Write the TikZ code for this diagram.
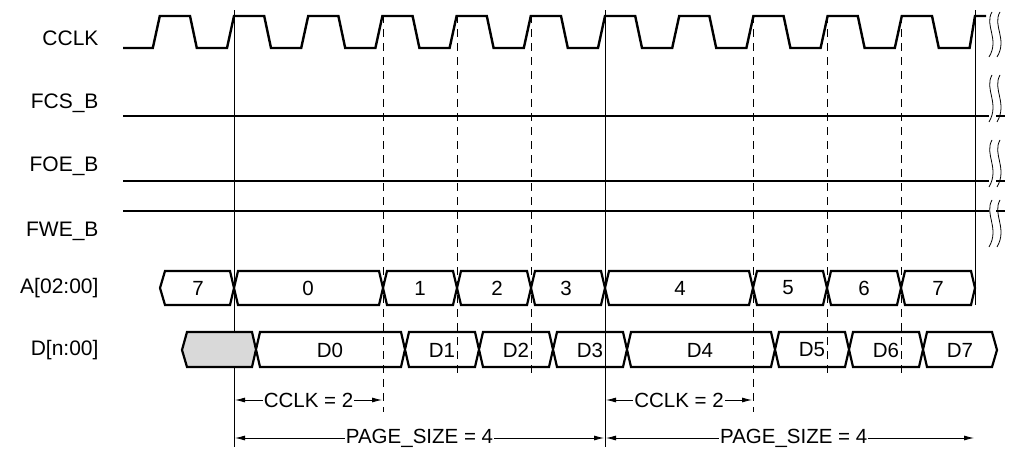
\documentclass[tikz,border=0pt]{standalone}
\usepackage{fontspec}
\setmainfont{Liberation Sans}
\usetikzlibrary{arrows.meta}
\begin{document}
\begin{tikzpicture}[x=1pt,y=-1pt,
  sig/.style={line width=2.4pt,line join=miter},
  bus/.style={line width=2.2pt,line join=miter},
  grid/.style={line width=0.8pt},
  gridd/.style={line width=0.8pt,dash pattern=on 8pt off 6pt},
  lbl/.style={anchor=east,font=\fontsize{21}{23}\selectfont},
  val/.style={font=\fontsize{20.5}{22}\selectfont},
  dim/.style={line width=0.8pt,{Latex[length=10pt,width=5pt]}-{Latex[length=10pt,width=5pt]}},
  brk/.style={line width=0.8pt}]
\useasboundingbox (0,0) rectangle (1010,455);
% labels
\node[lbl] (l1) at (102,38) {CCLK};
\node[lbl] (l2) at (102,103) {FCS\_B};
\node[lbl] (l3) at (102,166) {FOE\_B};
\node[lbl] (l4) at (102,231) {FWE\_B};
\node[lbl] (l5) at (102,288) {A[02:00]};
\node[lbl] (l6) at (102,350) {D[n:00]};
% vertical lines
\foreach \x in {234,605} \draw[grid] (\x,10) -- (\x,447);
\draw[grid] (975,10) -- (975,305);
\draw[gridd] (383,15) -- (383,412);
\draw[gridd] (753,15) -- (753,412);
\foreach \x in {457,531,827,901} \draw[gridd] (\x,15) -- (\x,376);
% clock
\draw[sig] (123,48) \foreach \k in {0,...,10} {
  -- ({152.8+74.2*\k},48) -- ({159.8+74.2*\k},16) -- ({190+74.2*\k},16) -- ({196.8+74.2*\k},48) -- ({227+74.2*\k},48)}
  -- (227.6+74.2*10,48) -- (975,16) -- (986,16);
% static lines
\draw[sig] (123,116) -- (989,116) (996,116) -- (1005,116);
\draw[sig] (123,181) -- (989,181) (996,181) -- (1005,181);
\draw[sig] (123,211) -- (989,211) (996,211) -- (1005,211);
% breaks
\foreach \ya/\yb in {12/57,75/122,140/187,200/247} {
  \foreach \dx in {0,8} {
    \draw[brk] ({992+\dx},\ya) .. controls ({984+\dx},{\ya+0.3*(\yb-\ya)}) and ({1000+\dx},{\ya+0.6*(\yb-\ya)}) .. ({989+\dx},\yb);
  }
}
% A bus
\def\at{271}\def\ab{305}\def\am{288}
\draw[bus] (160,\am) -- (165,\at) -- (230,\at) -- (238,\ab) -- (379,\ab) -- (387,\at) -- (453,\at) -- (461,\ab) -- (527,\ab) -- (535,\at) -- (601,\at) -- (609,\ab) -- (749,\ab) -- (757,\at) -- (823,\at) -- (831,\ab) -- (897,\ab) -- (905,\at) -- (971,\at) -- (975,\am) -- (971,\ab) -- (905,\ab) -- (897,\at) -- (831,\at) -- (823,\ab) -- (757,\ab) -- (749,\at) -- (609,\at) -- (601,\ab) -- (535,\ab) -- (527,\at) -- (461,\at) -- (453,\ab) -- (387,\ab) -- (379,\at) -- (238,\at) -- (230,\ab) -- (165,\ab) -- cycle;
\foreach \x/\t in {198/7,308/0,420/1,497/2,566/3,680/4,788/5,864/6,938/7}
  \node[val] at (\x,\am) {\t};
% D bus
\def\dt{332}\def\db{367}\def\dm{350}
\fill[gray!30] (182,\dm) -- (187,\dt) -- (252,\dt) -- (256,\dm) -- (252,\db) -- (187,\db) -- cycle;
\draw[bus] (182,\dm) -- (187,\dt) -- (252,\dt) -- (260,\db) -- (401,\db) -- (409,\dt) -- (475,\dt) -- (483,\db) -- (549,\db) -- (557,\dt) -- (623,\dt) -- (631,\db) -- (771,\db) -- (779,\dt) -- (845,\dt) -- (853,\db) -- (919,\db) -- (927,\dt) -- (992,\dt) -- (997,\dm) -- (992,\db) -- (927,\db) -- (919,\dt) -- (853,\dt) -- (845,\db) -- (779,\db) -- (771,\dt) -- (631,\dt) -- (623,\db) -- (557,\db) -- (549,\dt) -- (483,\dt) -- (475,\db) -- (409,\db) -- (401,\dt) -- (260,\dt) -- (252,\db) -- (187,\db) -- cycle;
\foreach \x/\t in {330/D0,442/D1,516/D2,590/D3,700/D4,812/D5,886/D6,960/D7}
  \node[val] at (\x,\dm) {\t};
% dimensions
\draw[dim] (235,400) -- node[val,fill=white,inner sep=1pt] {CCLK = 2} (382,400);
\draw[dim] (606,400) -- node[val,fill=white,inner sep=1pt] {CCLK = 2} (752,400);
\draw[dim] (235,438) -- node[val,fill=white,inner sep=1pt] {PAGE\_SIZE = 4} (604,438);
\draw[dim] (606,438) -- node[val,fill=white,inner sep=1pt,pos=0.51] {PAGE\_SIZE = 4} (974,438);
\end{tikzpicture}
\end{document}
